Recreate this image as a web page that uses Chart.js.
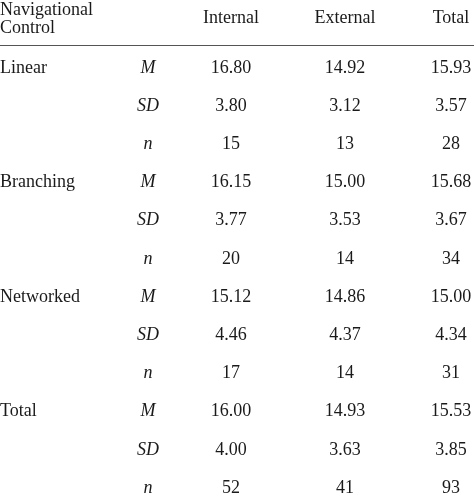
<!DOCTYPE html>
<html><head><meta charset="utf-8">
<script src="https://cdn.jsdelivr.net/npm/chart.js@4"></script>
<style>html,body{margin:0;padding:0;background:#fff}#w{width:474px;height:504px}</style>
</head><body><div id="w"><canvas id="c"></canvas></div>
<script>
const groups = ['Linear','Branching','Networked','Total'];
const stats = ['M','SD','n'];
const columns = ['Internal','External','Total'];
const internalVals = ['16.80','3.80','15','16.15','3.77','20','15.12','4.46','17','16.00','4.00','52'];
const externalVals = ['14.92','3.12','13','15.00','3.53','14','14.86','4.37','14','14.93','3.63','41'];
const totalVals = ['15.93','3.57','28','15.68','3.67','34','15.00','4.34','31','15.53','3.85','93'];
const valueCols = [internalVals, externalVals, totalVals];
const colX = [231, 345, 451]; // column centres (layout)
const statX = 148, groupX = 0;

const rows = internalVals.map((_, i) => i);
const datasets = valueCols.map((vals, c) => ({
  label: columns[c], data: rows.map(r => ({x: colX[c], y: r, t: vals[r]})), pointRadius: 0
}));

const textPlugin = {
  id: 'tbl',
  afterDraw(chart) {
    const ctx = chart.ctx, xs = chart.scales.x, ys = chart.scales.y;
    ctx.save();
    ctx.fillStyle = '#1a1a1a';
    ctx.textBaseline = 'middle';
    const f = '18px "Liberation Serif", "Times New Roman", serif';
    ctx.font = f;
    // header
    ctx.textAlign = 'left';
    ctx.fillText('Navigational', xs.getPixelForValue(groupX), ys.getPixelForValue(-1.52));
    ctx.fillText('Control', xs.getPixelForValue(groupX), ys.getPixelForValue(-1.05));
    ctx.textAlign = 'center';
    columns.forEach((c, i) => ctx.fillText(c, xs.getPixelForValue(colX[i]), ys.getPixelForValue(-1.3)));
    // rule
    ctx.strokeStyle = '#555'; ctx.lineWidth = 1;
    const ly = Math.round(ys.getPixelForValue(-0.6)) + 0.5;
    ctx.beginPath(); ctx.moveTo(xs.left, ly); ctx.lineTo(xs.right, ly); ctx.stroke();
    // groups and stats
    groups.forEach((g, gi) => {
      ctx.textAlign = 'left'; ctx.font = f;
      ctx.fillText(g, xs.getPixelForValue(groupX), ys.getPixelForValue(gi * 3));
      stats.forEach((s, si) => {
        ctx.textAlign = 'center';
        ctx.font = 'italic 18px "Liberation Serif", serif';
        ctx.fillText(s, xs.getPixelForValue(statX), ys.getPixelForValue(gi * 3 + si));
      });
    });
    ctx.font = f; ctx.textAlign = 'center';
    chart.data.datasets.forEach(ds => ds.data.forEach(p => {
      ctx.fillText(p.t, xs.getPixelForValue(p.x), ys.getPixelForValue(p.y));
    }));
    ctx.restore();
  }
};

new Chart(document.getElementById('c'), {
  type: 'scatter',
  data: { datasets },
  options: {
    responsive: true, maintainAspectRatio: false, animation: false,
    layout: { padding: 0 },
    plugins: { legend: { display: false }, tooltip: { enabled: false } },
    scales: {
      x: { type: 'linear', display: false, min: 0, max: 474 },
      y: { type: 'linear', display: false, reverse: true, min: -1.781, max: 11.42 }
    }
  },
  plugins: [textPlugin]
});
</script></body></html>
